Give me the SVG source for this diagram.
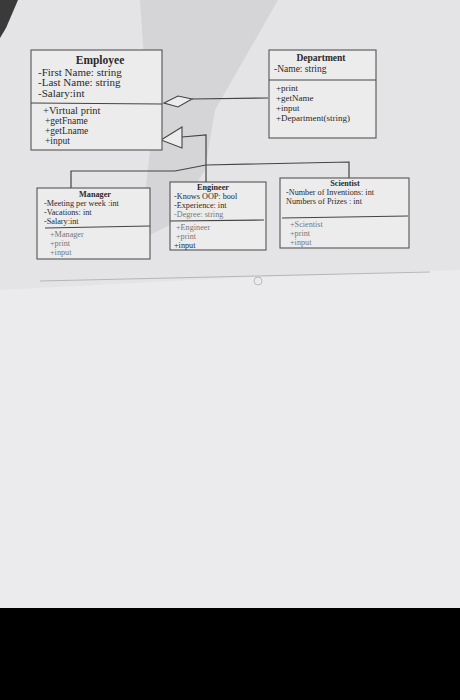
<svg xmlns="http://www.w3.org/2000/svg" width="460" height="700" viewBox="0 0 460 700">
<style>
.box{fill:#ececec;stroke:#555;stroke-width:1.1}
.div{stroke:#444;stroke-width:1.1}
.t{font-family:"Liberation Serif",serif;fill:#2a2a2a}
.ti{font-weight:bold;text-anchor:middle}
.s{font-size:8.2px}
.f{fill:#777}
.con{fill:none;stroke:#444;stroke-width:1.2}
</style>
<rect x="0" y="0" width="460" height="700" fill="#e4e4e6"/>
<polygon points="0,0 18,0 6,28 0,38" fill="#3a3a3a"/>
<polygon points="140,0 278,0 215,110 205,170 170,225 140,240 150,150" fill="#d5d5d7"/>
<polygon points="0,290 230,278 460,270 460,608 0,608" fill="#ebebed"/>
<rect x="0" y="608" width="460" height="92" fill="#000"/>
<line x1="40" y1="281" x2="430" y2="272" stroke="#aaa" stroke-width="0.8"/>
<circle cx="258" cy="281" r="4" fill="none" stroke="#bbb" stroke-width="1"/>

<g id="connectors">
<line class="con" x1="192" y1="99" x2="268" y2="98"/>
<polygon points="164,103 178,96 192,99 178,107" fill="#ececec" stroke="#444" stroke-width="1.1"/>
<polyline class="con" points="182,137 206,135 206,182"/>
<polyline class="con" points="71,188 71,171 175,171 206,165 349,162 349,178"/>
<polygon points="161,140 182,127 182,148" fill="#ececec" stroke="#444" stroke-width="1.1"/>
</g>

<g id="employee">
<rect class="box" x="31" y="50" width="131" height="100"/>
<line class="div" x1="31" y1="103" x2="162" y2="104"/>
<text class="t ti" x="100" y="64" font-size="11.5">Employee</text>
<text class="t" x="38" y="75.5" font-size="11">-First Name: string</text>
<text class="t" x="38" y="86" font-size="11">-Last Name: string</text>
<text class="t" x="38" y="96.5" font-size="11">-Salary:int</text>
<text class="t" x="43" y="114" font-size="10.5">+Virtual print</text>
<text class="t" x="45" y="124" font-size="9.5">+getFname</text>
<text class="t" x="45" y="134" font-size="9.5">+getLname</text>
<text class="t" x="45" y="144" font-size="9.5">+input</text>
</g>

<g id="department">
<rect class="box" x="269" y="50" width="107" height="88"/>
<line class="div" x1="269" y1="80" x2="376" y2="80"/>
<text class="t ti" x="321" y="61" font-size="9.5">Department</text>
<text class="t" x="274" y="72" font-size="9.5">-Name: string</text>
<text class="t" x="276" y="90.5" font-size="9">+print</text>
<text class="t" x="276" y="100.5" font-size="9">+getName</text>
<text class="t" x="276" y="110.5" font-size="9">+input</text>
<text class="t" x="276" y="120.5" font-size="9">+Department(string)</text>
</g>

<g id="manager">
<rect class="box" x="37" y="188" width="113" height="71"/>
<line class="div" x1="45" y1="228" x2="150" y2="226"/>
<text class="t ti s" x="95" y="197">Manager</text>
<text class="t s" x="44" y="206">-Meeting per week :int</text>
<text class="t s" x="44" y="215">-Vacations: int</text>
<text class="t s" x="44" y="224">-Salary:int</text>
<text class="t s f" x="50" y="237">+Manager</text>
<text class="t s f" x="50" y="246">+print</text>
<text class="t s f" x="50" y="255">+input</text>
</g>

<g id="engineer">
<rect class="box" x="170" y="182" width="96" height="68"/>
<line class="div" x1="170" y1="221" x2="264" y2="220"/>
<text class="t ti s" x="213" y="190">Engineer</text>
<text class="t s" x="174" y="199">-Knows OOP: bool</text>
<text class="t s" x="174" y="208">-Experience: int</text>
<text class="t s f" x="174" y="217">-Degree: string</text>
<text class="t s f" x="176" y="230">+Engineer</text>
<text class="t s f" x="176" y="239">+print</text>
<text class="t s" x="174" y="248">+input</text>
</g>

<g id="scientist">
<rect class="box" x="280" y="178" width="129" height="70"/>
<line class="div" x1="282" y1="218" x2="408" y2="216"/>
<text class="t ti s" x="345" y="186">Scientist</text>
<text class="t s" x="286" y="195">-Number of Inventions: int</text>
<text class="t s" x="286" y="204">Numbers of Prizes : int</text>
<text class="t s f" x="290" y="227">+Scientist</text>
<text class="t s f" x="290" y="236">+print</text>
<text class="t s f" x="290" y="245">+input</text>
</g>
</svg>
